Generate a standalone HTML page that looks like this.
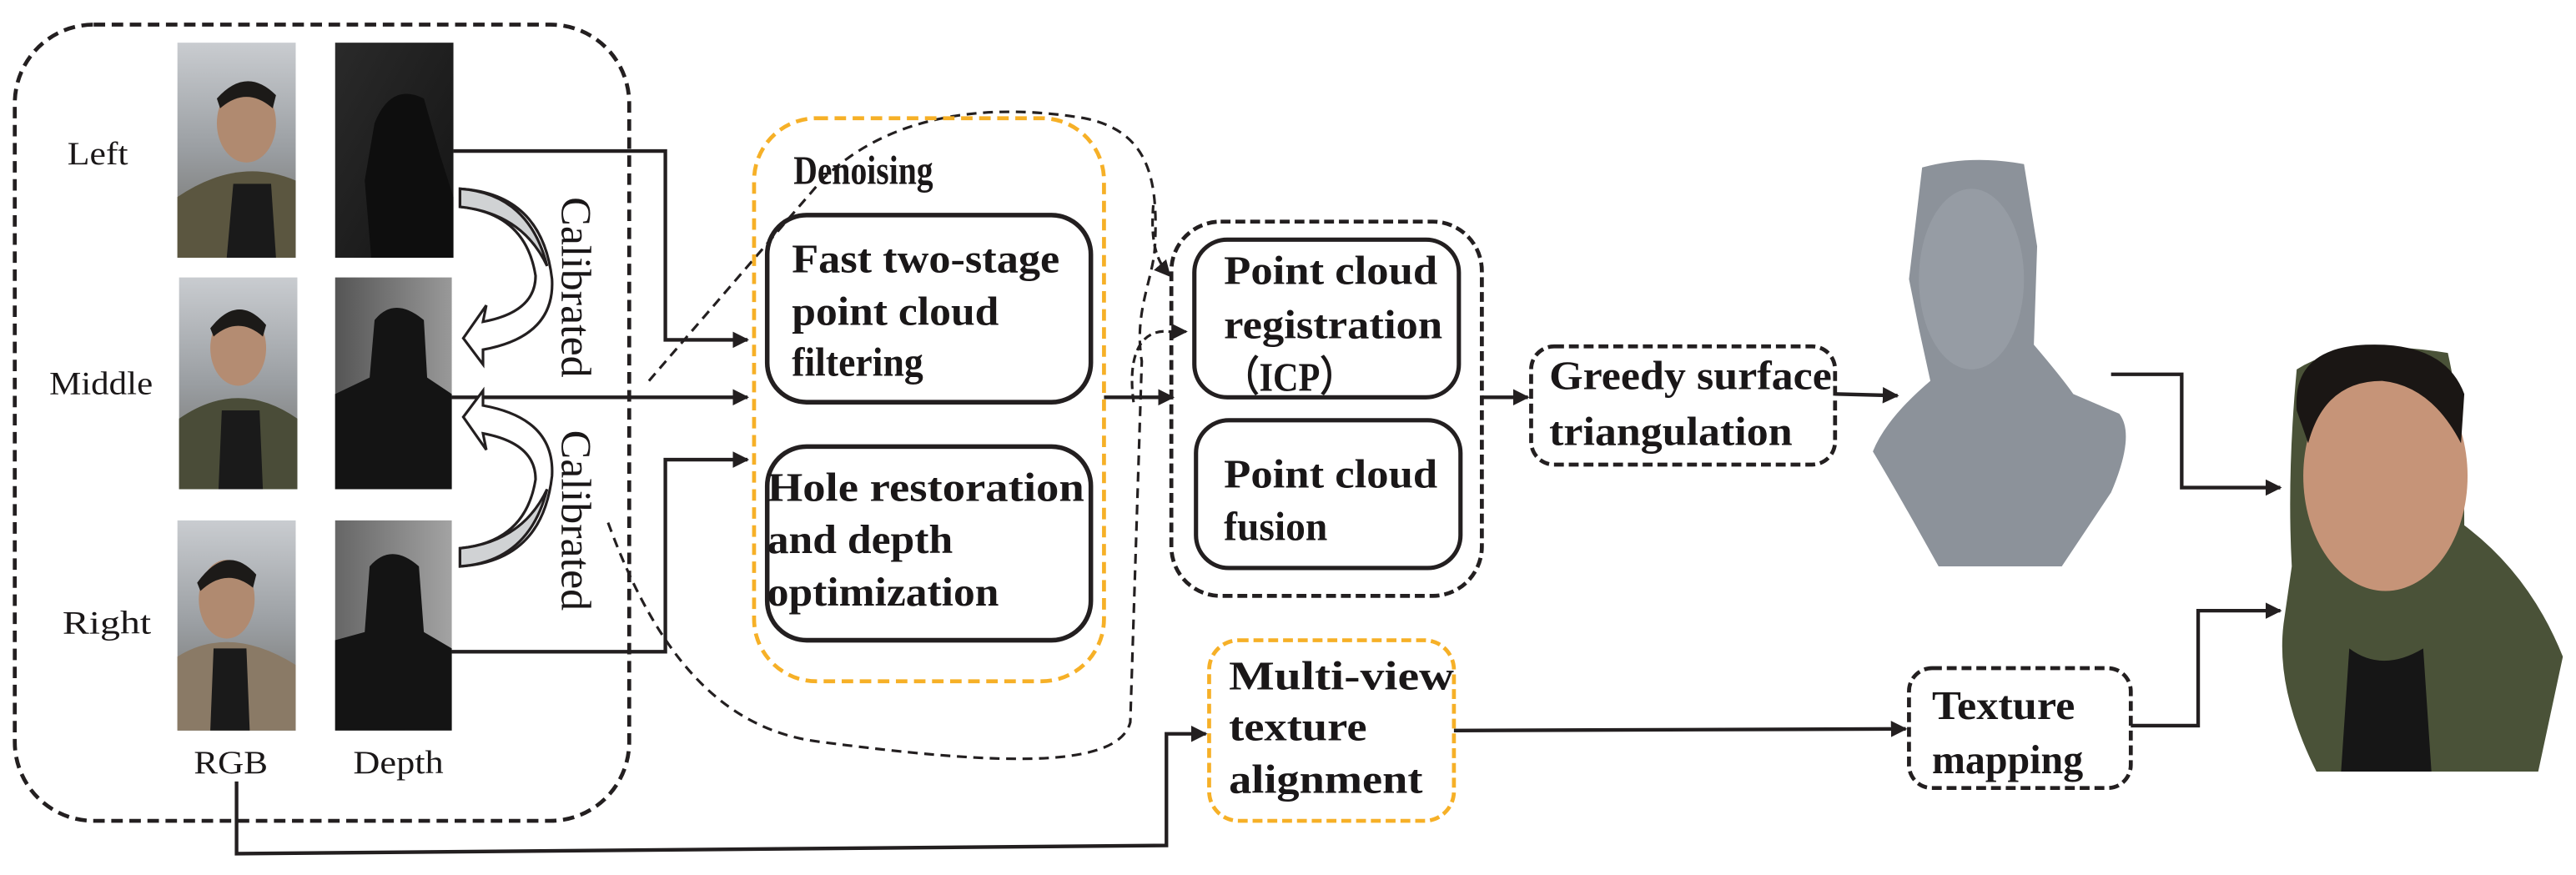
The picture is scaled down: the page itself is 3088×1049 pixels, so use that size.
<!DOCTYPE html>
<html><head><meta charset="utf-8"><style>
html,body{margin:0;padding:0;background:#fff;}
svg{display:block;}
text{font-family:"Liberation Serif","Times New Roman",serif;fill:#1a1718;}
.b{font-weight:bold;font-size:25px;}
.r{font-size:20px;}
</style></head><body>
<svg width="3088" height="1049" viewBox="0 0 1568 533" preserveAspectRatio="none" xmlns="http://www.w3.org/2000/svg">
<defs>
<marker id="ah" markerWidth="10" markerHeight="10" refX="9" refY="5" orient="auto" markerUnits="userSpaceOnUse"><path d="M0,0 L10,5 L0,10 z" fill="#231f20"/></marker>
<linearGradient id="bg1" x1="0" y1="0" x2="0" y2="1"><stop offset="0" stop-color="#c9ccd0"/><stop offset="0.5" stop-color="#9a9ea2"/><stop offset="1" stop-color="#6c6a64"/></linearGradient>
<linearGradient id="dp" x1="0" y1="0" x2="1" y2="1"><stop offset="0" stop-color="#2a2a2a"/><stop offset="1" stop-color="#141414"/></linearGradient>
<linearGradient id="dpm" x1="0" y1="0" x2="1" y2="0"><stop offset="0" stop-color="#555"/><stop offset="1" stop-color="#999"/></linearGradient>
</defs>
<g fill="none" stroke="#231f20" stroke-width="2.2">
<rect x="9" y="15" width="374" height="485" rx="48" stroke-dasharray="7,4" stroke-width="2.4"/>
<path d="M395,232 L500,110 C540,70 600,62 660,72 C700,80 705,110 703,150 C702,170 690,190 695,220 L688,440 C680,470 600,465 500,452 C440,445 400,400 370,318" stroke-dasharray="6,4" stroke-width="1.6"/>
<rect x="459" y="72" width="213" height="343" rx="38" stroke="#f6b027" stroke-dasharray="7,4" stroke-width="2.4"/>
<rect x="467" y="131" width="197" height="114" rx="24" stroke-width="2.8"/>
<rect x="467" y="272" width="197" height="118" rx="24" stroke-width="2.8"/>
<rect x="713" y="135" width="189" height="228" rx="30" stroke-dasharray="6,3" stroke-width="2.4"/>
<rect x="727" y="146" width="161" height="96" rx="20" stroke-width="2.6"/>
<rect x="728" y="256" width="161" height="90" rx="20" stroke-width="2.6"/>
<rect x="932" y="211" width="185" height="72" rx="14" stroke-dasharray="6,3" stroke-width="2.4"/>
<rect x="1162" y="407" width="135" height="73" rx="14" stroke-dasharray="6,3" stroke-width="2.4"/>
<rect x="736" y="390" width="149" height="110" rx="18" stroke="#f6b027" stroke-dasharray="6,3" stroke-width="2.4"/>
<path d="M702,125 C700,150 705,160 712,168" stroke-dasharray="5,3" stroke-width="1.6" marker-end="url(#ah)"/>
<path d="M690,245 C686,215 695,200 712,202 L722,202" stroke-dasharray="5,3" stroke-width="1.6" marker-end="url(#ah)"/>
<path d="M276,92 L405,92 L405,207 L455,207" marker-end="url(#ah)"/>
<path d="M240,242 L455,242" marker-end="url(#ah)"/>
<path d="M260,397 L405,397 L405,280 L455,280" marker-end="url(#ah)"/>
<path d="M672,242 L714,242" marker-end="url(#ah)"/>
<path d="M902,242 L930,242" marker-end="url(#ah)"/>
<path d="M1117,240 L1155,241" marker-end="url(#ah)"/>
<path d="M1285,228 L1328,228 L1328,297 L1388,297" marker-end="url(#ah)"/>
<path d="M144,476 L144,520 L710,515 L710,447 L734,447" marker-end="url(#ah)"/>
<path d="M885,445 L1160,444" marker-end="url(#ah)"/>
<path d="M1297,442 L1338,442 L1338,372 L1388,372" marker-end="url(#ah)"/>
</g>
<g>
<rect x="108" y="26" width="72" height="131" fill="url(#bg1)"/>
<ellipse cx="150" cy="75" rx="18" ry="24" fill="#b08a70"/><path d="M132,60 Q150,40 168,58 L166,66 Q150,52 134,66z" fill="#1c1a18"/>
<path d="M108,157 L108,120 Q145,95 180,110 L180,157z" fill="#5b5640"/><path d="M138,157 L142,112 L165,112 L168,157z" fill="#1a1a1a"/>
<rect x="109" y="169" width="72" height="129" fill="url(#bg1)"/>
<ellipse cx="145" cy="212" rx="17" ry="23" fill="#b48c72"/><path d="M128,200 Q145,178 162,198 L160,205 Q145,192 130,205z" fill="#1c1a18"/>
<path d="M109,298 L109,255 Q145,230 181,255 L181,298z" fill="#4a4c38"/><path d="M133,298 L135,250 L158,250 L160,298z" fill="#1a1a1a"/>
<rect x="108" y="317" width="72" height="128" fill="url(#bg1)"/>
<ellipse cx="138" cy="365" rx="17" ry="24" fill="#b08a70"/><path d="M120,355 Q138,330 156,350 L154,358 Q138,345 122,360z" fill="#1c1a18"/>
<path d="M108,445 L108,400 Q140,380 180,405 L180,445z" fill="#8a7a66"/><path d="M128,445 L130,395 L150,395 L152,445z" fill="#1a1a1a"/>
<rect x="204" y="26" width="72" height="131" fill="url(#dp)"/>
<path d="M226,157 L222,110 L228,75 Q238,50 258,60 L268,95 L276,120 L276,157z" fill="#0e0e0e"/>
<rect x="204" y="169" width="71" height="129" fill="url(#dpm)"/>
<path d="M204,298 L204,240 L225,230 L228,195 Q240,180 258,195 L260,230 L275,240 L275,298z" fill="#141414"/>
<rect x="204" y="317" width="71" height="128" fill="url(#dpm)" opacity="0.9"/>
<path d="M204,445 L204,390 L222,385 L225,345 Q238,330 255,345 L258,385 L275,395 L275,445z" fill="#141414"/>
<!-- bust -->
<path d="M1170,102 Q1200,94 1232,100 L1240,150 L1238,210 Q1255,230 1262,240 L1290,252 Q1300,265 1285,300 L1255,345 L1180,345 Q1155,300 1140,275 Q1148,255 1175,232 L1168,200 L1162,170z" fill="#8c929a"/>
<ellipse cx="1200" cy="170" rx="32" ry="55" fill="#969ca4"/>
<!-- face -->
<path d="M1395,345 Q1392,290 1398,225 Q1430,205 1490,215 Q1500,260 1500,320 Q1540,350 1560,400 L1545,470 L1410,470 Q1385,420 1390,380z" fill="#4a5238"/>
<ellipse cx="1452" cy="290" rx="50" ry="70" fill="#c69478"/>
<path d="M1398,250 Q1395,212 1440,210 Q1488,208 1500,240 L1498,270 Q1480,235 1450,232 Q1415,232 1405,270z" fill="#1a1614"/>
<path d="M1425,470 L1430,395 Q1450,410 1475,395 L1480,470z" fill="#161616"/>
</g>
<g stroke="#231f20" stroke-width="1.6">
<path d="M280,115 Q330,118 336,170 Q338,205 294,213 L294,222 L282,206 L296,186 L294,196 Q326,190 326,168 Q320,130 280,126z" fill="#fff"/>
<path d="M280,115 Q322,118 333,162 Q318,130 280,126z" fill="#d0d2d4"/>
<path d="M280,345 Q330,342 336,290 Q338,255 294,247 L294,238 L282,254 L296,274 L294,264 Q326,270 326,292 Q320,330 280,334z" fill="#fff"/>
<path d="M280,345 Q322,342 333,298 Q318,330 280,334z" fill="#d0d2d4"/>
</g>
<text transform="translate(342,120) rotate(90)" style="font-size:26px" textLength="110" lengthAdjust="spacingAndGlyphs">Calibrated</text>
<text transform="translate(342,262) rotate(90)" style="font-size:26px" textLength="110" lengthAdjust="spacingAndGlyphs">Calibrated</text>
<text class="r" x="41" y="100" textLength="37" lengthAdjust="spacingAndGlyphs">Left</text>
<text class="r" x="30" y="240" textLength="63" lengthAdjust="spacingAndGlyphs">Middle</text>
<text class="r" x="38" y="386" textLength="54" lengthAdjust="spacingAndGlyphs">Right</text>
<text class="r" x="118" y="471" textLength="45" lengthAdjust="spacingAndGlyphs">RGB</text>
<text class="r" x="215" y="471" textLength="55" lengthAdjust="spacingAndGlyphs">Depth</text>
<text class="b" x="483" y="112" textLength="85" lengthAdjust="spacingAndGlyphs">Denoising</text>
<text class="b" x="482" y="166" textLength="163" lengthAdjust="spacingAndGlyphs">Fast two-stage</text>
<text class="b" x="482" y="198" textLength="126" lengthAdjust="spacingAndGlyphs">point cloud</text>
<text class="b" x="482" y="229" textLength="80" lengthAdjust="spacingAndGlyphs">filtering</text>
<text class="b" x="467" y="305" textLength="193" lengthAdjust="spacingAndGlyphs">Hole restoration</text>
<text class="b" x="467" y="337" textLength="113" lengthAdjust="spacingAndGlyphs">and depth</text>
<text class="b" x="467" y="369" textLength="141" lengthAdjust="spacingAndGlyphs">optimization</text>
<text class="b" x="745" y="173" textLength="130" lengthAdjust="spacingAndGlyphs">Point cloud</text>
<text class="b" x="745" y="206" textLength="133" lengthAdjust="spacingAndGlyphs">registration</text>
<text class="b" x="745" y="238" textLength="80" lengthAdjust="spacingAndGlyphs">（ICP）</text>
<text class="b" x="745" y="297" textLength="130" lengthAdjust="spacingAndGlyphs">Point cloud</text>
<text class="b" x="745" y="329" textLength="63" lengthAdjust="spacingAndGlyphs">fusion</text>
<text class="b" x="943" y="237" textLength="172" lengthAdjust="spacingAndGlyphs">Greedy surface</text>
<text class="b" x="943" y="271" textLength="148" lengthAdjust="spacingAndGlyphs">triangulation</text>
<text class="b" x="748" y="420" textLength="137" lengthAdjust="spacingAndGlyphs">Multi-view</text>
<text class="b" x="748" y="451" textLength="84" lengthAdjust="spacingAndGlyphs">texture</text>
<text class="b" x="748" y="483" textLength="118" lengthAdjust="spacingAndGlyphs">alignment</text>
<text class="b" x="1176" y="438" textLength="87" lengthAdjust="spacingAndGlyphs">Texture</text>
<text class="b" x="1176" y="471" textLength="92" lengthAdjust="spacingAndGlyphs">mapping</text>
</svg>
</body></html>
